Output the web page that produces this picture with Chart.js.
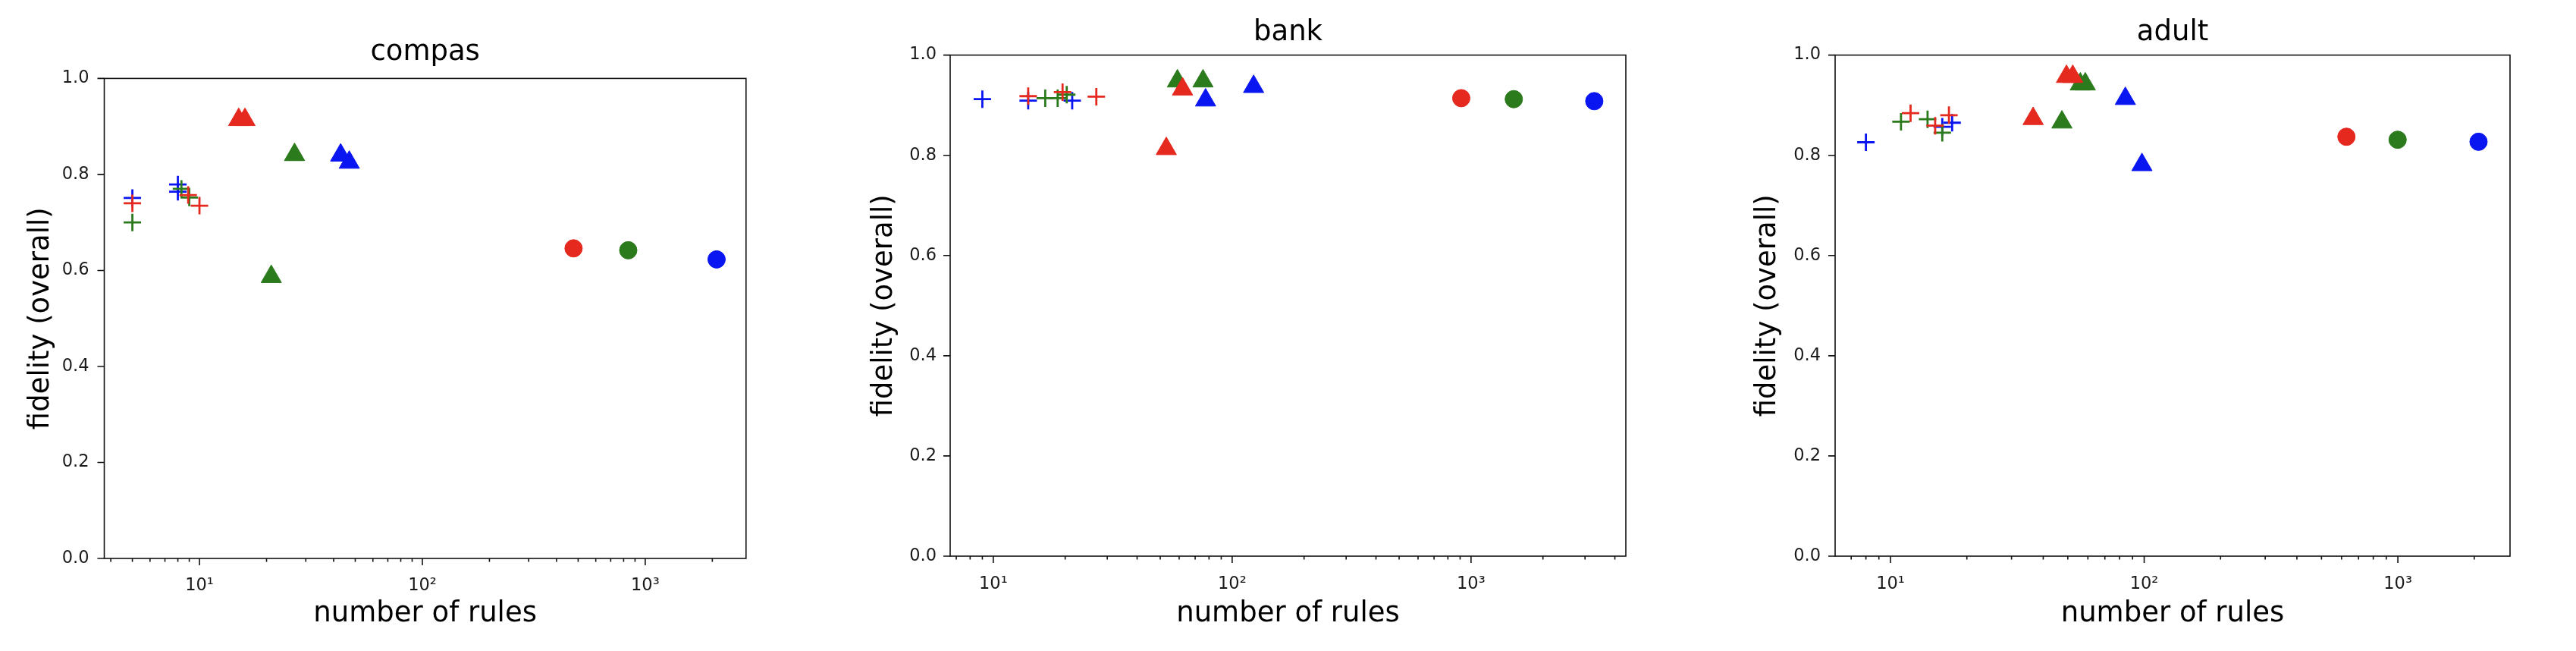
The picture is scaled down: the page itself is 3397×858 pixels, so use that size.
<!DOCTYPE html>
<html>
<head>
<meta charset="utf-8">
<script src="https://cdn.jsdelivr.net/npm/chart.js@4.4.1/dist/chart.umd.min.js"></script>
<style>
  html, body { margin: 0; padding: 0; background: #fff; }
  body { width: 3397px; height: 858px; position: relative; overflow: hidden; }
  canvas { position: absolute; top: 0; }
</style>
</head>
<body>
<canvas id="compas" width="1100" height="858" style="left:0px"></canvas>
<canvas id="bank" width="1150" height="858" style="left:1100px"></canvas>
<canvas id="adult" width="1147" height="858" style="left:2250px"></canvas>
<script>
// tick labels
const xMajorTicks = [10, 100, 1000];
const xMajorLabels = ['10\u00b9', '10\u00b2', '10\u00b3'];
const yTicks = [0, 0.2, 0.4, 0.6, 0.8, 1.0];

// colours of the series
const seriesColors = { red: '#e6291f', green: '#2b7a1c', blue: '#0a16f2' };

// compas: [number of rules, fidelity]
const compasRedPlus   = [[5, 0.740], [8.9, 0.757], [10, 0.735]];
const compasGreenPlus = [[5, 0.700], [8.3, 0.770], [9, 0.752]];
const compasBluePlus  = [[5, 0.751], [8, 0.779], [8, 0.764]];
const compasRedTri    = [[15, 0.914], [16, 0.914]];
const compasGreenTri  = [[21, 0.587], [26.7, 0.841]];
const compasBlueTri   = [[43, 0.840], [47, 0.825]];
const compasRedDot    = [[477, 0.646]];
const compasGreenDot  = [[839, 0.642]];
const compasBlueDot   = [[2090, 0.623]];

// bank
const bankRedPlus   = [[14, 0.918], [19.5, 0.926], [27, 0.917]];
const bankGreenPlus = [[16.5, 0.914], [18.6, 0.914], [20.3, 0.921]];
const bankBluePlus  = [[9, 0.912], [14, 0.909], [21.4, 0.909]];
const bankRedTri    = [[53, 0.813], [62, 0.932]];
const bankGreenTri  = [[59, 0.948], [75.5, 0.948]];
const bankBlueTri   = [[77.4, 0.910], [123, 0.937]];
const bankRedDot    = [[910, 0.914]];
const bankGreenDot  = [[1510, 0.912]];
const bankBlueDot   = [[3280, 0.908]];

// adult
const adultRedPlus   = [[12, 0.884], [15, 0.859], [17, 0.880]];
const adultGreenPlus = [[11, 0.867], [14, 0.872], [16, 0.845]];
const adultBluePlus  = [[8, 0.826], [16, 0.857], [17.5, 0.865]];
const adultRedTri    = [[36.5, 0.873], [49.4, 0.957], [52.3, 0.957]];
const adultGreenTri  = [[47.4, 0.866], [56, 0.942], [58.6, 0.942]];
const adultBlueTri   = [[84.3, 0.913], [98, 0.781]];
const adultRedDot    = [[627, 0.837]];
const adultGreenDot  = [[998, 0.831]];
const adultBlueDot   = [[2080, 0.827]];

const xRanges = { compas: [3.74, 2833], bank: [6.6, 4446], adult: [6.05, 2768] };

// layout of each panel, in canvas pixels
const layouts = {
  compas: { yAxisW: 137.5, padRight: 116.2, titleY: 69.3, plotTop: 103.4, plotBottom: 736, yTitleX: 54.6, tickPad: 23, yTickPad: 20 },
  bank:   { yAxisW: 153,   padRight: 106,   titleY: 43,   plotTop: 72.6,  plotBottom: 733, yTitleX: 66,   tickPad: 24, yTickPad: 18 },
  adult:  { yAxisW: 170,   padRight: 87,    titleY: 43,   plotTop: 72.6,  plotBottom: 733, yTitleX: 81,   tickPad: 24, yTickPad: 19 }
};

const FONT = 'DejaVu Sans';
const LABEL_SIZE = 37;
const TICK_SIZE = 22.5;
const CANVAS_H = 858;

function toPoints(arr) {
  return arr.map(([x, y]) => ({ x, y }));
}

function markerSet(color, style, pts) {
  const c = seriesColors[color];
  const base = { data: toPoints(pts), borderColor: c, backgroundColor: c, pointStyle: style };
  if (style === 'cross') return { ...base, pointRadius: 11.5, pointBorderWidth: 2.8 };
  if (style === 'triangle') return { ...base, pointRadius: 15.5, pointBorderWidth: 1 };
  return { ...base, pointRadius: 11.5, pointBorderWidth: 1 };
}

// box round the plot and the outward tick marks (minor ticks shorter)
const frameAndTicks = {
  id: 'frameAndTicks',
  afterDraw(chart) {
    const { ctx, chartArea: a, scales: { x, y } } = chart;
    ctx.save();
    ctx.strokeStyle = '#111';
    ctx.lineWidth = 1.6;
    ctx.strokeRect(a.left, a.top, a.right - a.left, a.bottom - a.top);
    ctx.beginPath();
    x.ticks.forEach(t => {
      const px = x.getPixelForValue(t.value);
      const len = xMajorTicks.includes(t.value) ? 9 : 4.5;
      ctx.moveTo(px, a.bottom);
      ctx.lineTo(px, a.bottom + len);
    });
    y.ticks.forEach(t => {
      const py = y.getPixelForValue(t.value);
      ctx.moveTo(a.left, py);
      ctx.lineTo(a.left - 9, py);
    });
    ctx.stroke();
    ctx.restore();
  }
};

function makePanel(name, sets) {
  const L = layouts[name];
  const [xmin, xmax] = xRanges[name];
  new Chart(document.getElementById(name), {
    type: 'scatter',
    data: { datasets: sets },
    options: {
      responsive: false,
      animation: false,
      devicePixelRatio: 1,
      layout: { padding: { top: L.titleY - LABEL_SIZE / 2, right: L.padRight, bottom: 0, left: 0 } },
      plugins: {
        legend: { display: false },
        tooltip: { enabled: false },
        title: {
          display: true,
          text: name,
          fullSize: false,
          color: '#000',
          font: { family: FONT, size: LABEL_SIZE, weight: 'normal', lineHeight: 1 },
          padding: { top: 0, bottom: L.plotTop - L.titleY - LABEL_SIZE / 2 }
        }
      },
      scales: {
        x: {
          type: 'logarithmic',
          min: xmin,
          max: xmax,
          grid: { display: false, drawTicks: false },
          border: { display: false },
          afterBuildTicks: (scale) => {
            const ticks = [];
            for (let e = Math.floor(Math.log10(xmin)); Math.pow(10, e) <= xmax; e++) {
              for (let m = 1; m < 10; m++) {
                const v = m * Math.pow(10, e);
                if (v >= xmin && v <= xmax) ticks.push({ value: v });
              }
            }
            scale.ticks = ticks;
          },
          afterFit: (scale) => { scale.height = CANVAS_H - L.plotBottom; },
          ticks: {
            autoSkip: false,
            maxRotation: 0,
            padding: L.tickPad,
            color: '#1a1a1a',
            font: { family: FONT, size: TICK_SIZE },
            callback: (v) => {
              const i = xMajorTicks.indexOf(v);
              return i >= 0 ? xMajorLabels[i] : '';
            }
          },
          title: {
            display: true,
            text: 'number of rules',
            color: '#000',
            font: { family: FONT, size: LABEL_SIZE, lineHeight: 1 },
            padding: { top: 0, bottom: 30.5 }
          }
        },
        y: {
          min: 0,
          max: 1,
          grid: { display: false, drawTicks: false },
          border: { display: false },
          afterBuildTicks: (scale) => { scale.ticks = yTicks.map(v => ({ value: v })); },
          afterFit: (scale) => { scale.width = L.yAxisW; },
          ticks: {
            padding: L.yTickPad,
            color: '#1a1a1a',
            font: { family: FONT, size: TICK_SIZE },
            callback: (v) => v.toFixed(1)
          },
          title: {
            display: true,
            text: 'fidelity (overall)',
            color: '#000',
            font: { family: FONT, size: LABEL_SIZE, lineHeight: 1 },
            padding: { top: L.yTitleX - LABEL_SIZE / 2, bottom: 0 }
          }
        }
      }
    },
    plugins: [frameAndTicks]
  });
}

makePanel('compas', [
  markerSet('red', 'cross', compasRedPlus),
  markerSet('green', 'cross', compasGreenPlus),
  markerSet('blue', 'cross', compasBluePlus),
  markerSet('red', 'triangle', compasRedTri),
  markerSet('green', 'triangle', compasGreenTri),
  markerSet('blue', 'triangle', compasBlueTri),
  markerSet('red', 'circle', compasRedDot),
  markerSet('green', 'circle', compasGreenDot),
  markerSet('blue', 'circle', compasBlueDot)
]);

makePanel('bank', [
  markerSet('red', 'cross', bankRedPlus),
  markerSet('green', 'cross', bankGreenPlus),
  markerSet('blue', 'cross', bankBluePlus),
  markerSet('red', 'triangle', bankRedTri),
  markerSet('green', 'triangle', bankGreenTri),
  markerSet('blue', 'triangle', bankBlueTri),
  markerSet('red', 'circle', bankRedDot),
  markerSet('green', 'circle', bankGreenDot),
  markerSet('blue', 'circle', bankBlueDot)
]);

makePanel('adult', [
  markerSet('red', 'cross', adultRedPlus),
  markerSet('green', 'cross', adultGreenPlus),
  markerSet('blue', 'cross', adultBluePlus),
  markerSet('red', 'triangle', adultRedTri),
  markerSet('green', 'triangle', adultGreenTri),
  markerSet('blue', 'triangle', adultBlueTri),
  markerSet('red', 'circle', adultRedDot),
  markerSet('green', 'circle', adultGreenDot),
  markerSet('blue', 'circle', adultBlueDot)
]);
</script>
</body>
</html>
